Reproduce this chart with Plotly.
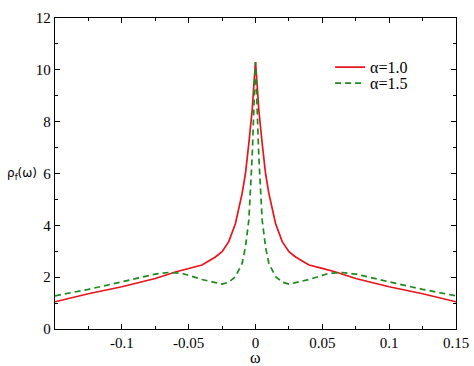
import plotly.graph_objects as go

omega_a10 = [-0.15, -0.125, -0.1, -0.075, -0.06, -0.05, -0.04, -0.03, -0.025, -0.02, -0.015, -0.01,
             -0.0075, -0.005, -0.0025, -0.001, 0.0, 0.001, 0.0025, 0.005, 0.0075, 0.01, 0.015, 0.02,
             0.025, 0.03, 0.04, 0.05, 0.06, 0.075, 0.1, 0.125, 0.15]
rho_a10 = [1.05, 1.36, 1.63, 1.95, 2.2, 2.34, 2.47, 2.78, 2.98, 3.37, 4.07, 5.23,
           6.0, 7.16, 8.44, 9.6, 10.3, 9.6, 8.44, 7.16, 6.0, 5.23, 4.07, 3.37,
           2.98, 2.78, 2.47, 2.34, 2.2, 1.95, 1.63, 1.36, 1.05]

omega_a15 = [-0.15, -0.125, -0.1, -0.075, -0.065, -0.055, -0.05, -0.04, -0.03, -0.025, -0.02, -0.015,
             -0.01, -0.0075, -0.005, -0.0025, -0.001, 0.0, 0.001, 0.0025, 0.005, 0.0075, 0.01,
             0.015, 0.02, 0.025, 0.03, 0.04, 0.05, 0.055, 0.065, 0.075, 0.1, 0.125, 0.15]
rho_a15 = [1.28, 1.53, 1.82, 2.12, 2.18, 2.15, 2.07, 1.91, 1.79, 1.73, 1.81, 2.02,
           2.53, 3.17, 4.2, 6.64, 8.83, 10.3, 8.83, 6.64, 4.2, 3.17, 2.53,
           2.02, 1.81, 1.73, 1.79, 1.91, 2.07, 2.15, 2.18, 2.12, 1.82, 1.53, 1.28]

x_ticks = [-0.1, -0.05, 0, 0.05, 0.1, 0.15]
x_ticklabels = ["-0.1", "-0.05", "0", "0.05", "0.1", "0.15"]
y_ticks = [0, 2, 4, 6, 8, 10, 12]

serif = "Liberation Serif"

fig = go.Figure()
fig.add_trace(go.Scatter(x=omega_a10, y=rho_a10, mode="lines", name="α=1.0", legend="legend",
                         line=dict(color="#e8141c", width=1.7)))
fig.add_trace(go.Scatter(x=omega_a15, y=rho_a15, mode="lines", name="α=1.5", legend="legend2",
                         line=dict(color="#1e8a1e", width=1.7, dash="6px,4px")))

axis_common = dict(showline=True, linecolor="black", linewidth=1.4, mirror="allticks",
                   ticks="inside", ticklen=5, tickwidth=1, tickcolor="black",
                   showgrid=False, zeroline=False, automargin=False,
                   tickfont=dict(family=serif, size=15, color="black"))

fig.update_xaxes(range=[-0.15, 0.15], tickvals=x_ticks, ticktext=x_ticklabels,
                 minor=dict(dtick=0.025, tick0=0, ticks="inside", ticklen=3, tickcolor="black", showgrid=False),
                 **axis_common)
fig.update_yaxes(range=[0, 12], tickvals=y_ticks,
                 minor=dict(dtick=1, tick0=0, ticks="inside", ticklen=3, tickcolor="black", showgrid=False),
                 **axis_common)

fig.add_annotation(text="ω", xref="paper", yref="paper", x=0.5, y=-0.091,
                   xanchor="center", yanchor="middle", showarrow=False,
                   font=dict(family=serif, size=16, color="black"))
fig.add_annotation(text="ρ<sub>f</sub>(ω)", xref="paper", yref="paper", x=-0.082, y=0.5,
                   xanchor="center", yanchor="middle", showarrow=False,
                   font=dict(family="DejaVu Sans", size=12, color="black"))

legend_common = dict(xanchor="left", yanchor="middle", bgcolor="rgba(0,0,0,0)",
                     font=dict(family=serif, size=16, color="black"), itemwidth=30)

fig.update_layout(
    width=474, height=366,
    margin=dict(l=55, r=18, t=18, b=37),
    plot_bgcolor="white", paper_bgcolor="white",
    font=dict(family=serif),
    showlegend=True,
    legend=dict(x=0.686, y=0.842, **legend_common),
    legend2=dict(x=0.686, y=0.790, **legend_common),
)

fig.write_html("out.html", config={"displayModeBar": False},
               post_script="document.body.style.margin='0px';")
